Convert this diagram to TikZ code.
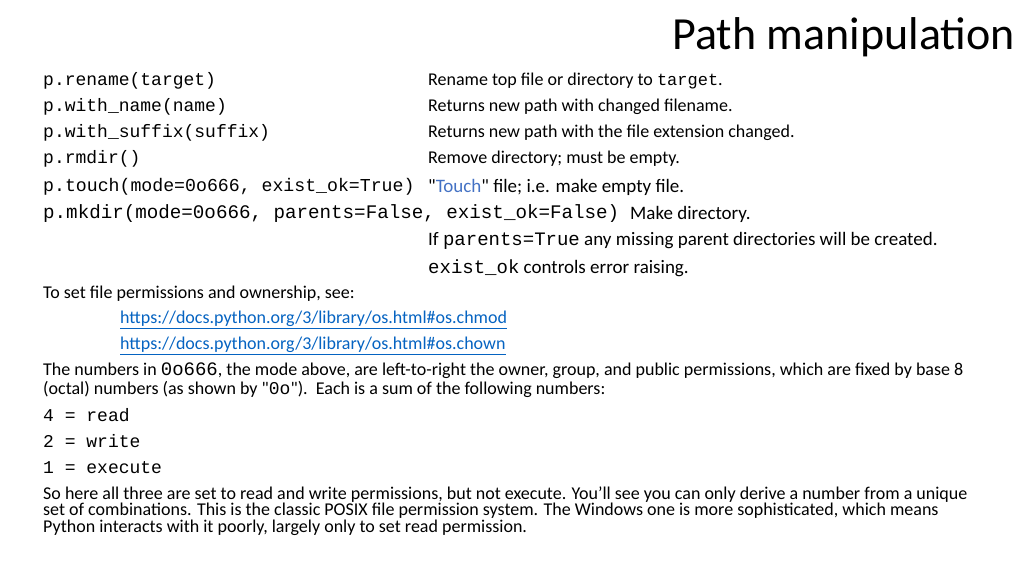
\documentclass[tikz,border=0pt]{standalone}
\usepackage{fontspec}
\setmainfont{Carlito}
\setmonofont{Liberation Mono}
\usetikzlibrary{positioning}
\definecolor{linkblue}{HTML}{0563C1}
\definecolor{touchblue}{HTML}{4472C4}
\newcommand{\dq}{\textquotedbl}
\begin{document}
\begin{tikzpicture}[x=1pt,y=-1pt]
  \tikzset{code text/.style={anchor=west, inner sep=0pt, font=\ttfamily\fontsize{18}{20}\selectfont}}
  \tikzset{body text/.style={anchor=west, inner sep=0pt, font=\fontsize{18}{18}\selectfont}}
  \tikzset{link text/.style={body text, text=linkblue}}
  \def\rx{428}

  \useasboundingbox (0,0) rectangle (1024,576);

  \node[anchor=east, inner sep=0pt, font=\fontsize{46}{46}\selectfont] (title) at (1015,37) {Path manipulation};

  % methods
  \node[code text] (m1) at (43,81) {p.rename(target)};
  \node[code text] (m2) at (43,107) {p.with\_name(name)};
  \node[code text] (m3) at (43,133) {p.with\_suffix(suffix)};
  \node[code text] (m4) at (43,159) {p.rmdir()};
  \node[code text, font=\ttfamily\fontsize{18.2}{20}\selectfont] (m5) at (43,187) {p.touch(mode=0o666, exist\_ok=True)};
  \node[code text, font=\ttfamily\fontsize{19.2}{20}\selectfont] (m6) at (43,214) {p.mkdir(mode=0o666, parents=False, exist\_ok=False)};

  % descriptions
  \node[body text] (d1) at (\rx,81) {Rename top file or directory to {\ttfamily\fontsize{17}{17}\selectfont target}.};
  \node[body text] (d2) at (\rx,107) {Returns new path with changed filename.};
  \node[body text] (d3) at (\rx,133) {Returns new path with the file extension changed.};
  \node[body text] (d4) at (\rx,159) {Remove directory; must be empty.};
  \node[body text, font=\fontsize{19}{19}\selectfont] (d5) at (\rx,187) {\dq\textcolor{touchblue}{Touch}\dq{} file; i.e. make empty file.};
  \node[body text, font=\fontsize{19}{19}\selectfont] (d6) at (630,214) {Make directory.};
  \node[body text, font=\fontsize{19}{19}\selectfont] (d7) at (\rx,241) {If {\ttfamily\fontsize{19}{19}\selectfont parents=True} any missing parent directories will be created.};
  \node[body text, font=\fontsize{19}{19}\selectfont] (d8) at (\rx,268) {{\ttfamily\fontsize{19}{19}\selectfont exist\_ok} controls error raising.};

  % permissions
  \node[body text] (p1) at (43,294) {To set file permissions and ownership, see:};
  \node[link text] (l1) at (120,320) {\underline{https://docs.python.org/3/library/os.html\#os.chmod}};
  \node[link text] (l2) at (120,346) {\underline{https://docs.python.org/3/library/os.html\#os.chown}};
  \node[body text, align=left, font=\fontsize{18}{18.5}\selectfont] (p2) at (43,380) {The numbers in {\ttfamily\fontsize{19}{18}\selectfont 0o666}, the mode above, are left-to-right the owner, group, and public permissions, which are fixed by base 8\\(octal) numbers (as shown by \dq{\ttfamily\fontsize{18}{18}\selectfont 0o}\dq).\ \ Each is a sum of the following numbers:};
  \node[code text] (n4) at (43,415) {4 = read};
  \node[code text] (n2) at (43,441) {2 = write};
  \node[code text] (n1) at (43,468) {1 = execute};
  \node[body text, align=left, font=\fontsize{18}{16.5}\selectfont] (p3) at (43,511) {So here all three are set to read and write permissions, but not execute. You'll see you can only derive a number from a unique\\set of combinations. This is the classic POSIX file permission system. The Windows one is more sophisticated, which means\\Python interacts with it poorly, largely only to set read permission.};
\end{tikzpicture}
\end{document}
